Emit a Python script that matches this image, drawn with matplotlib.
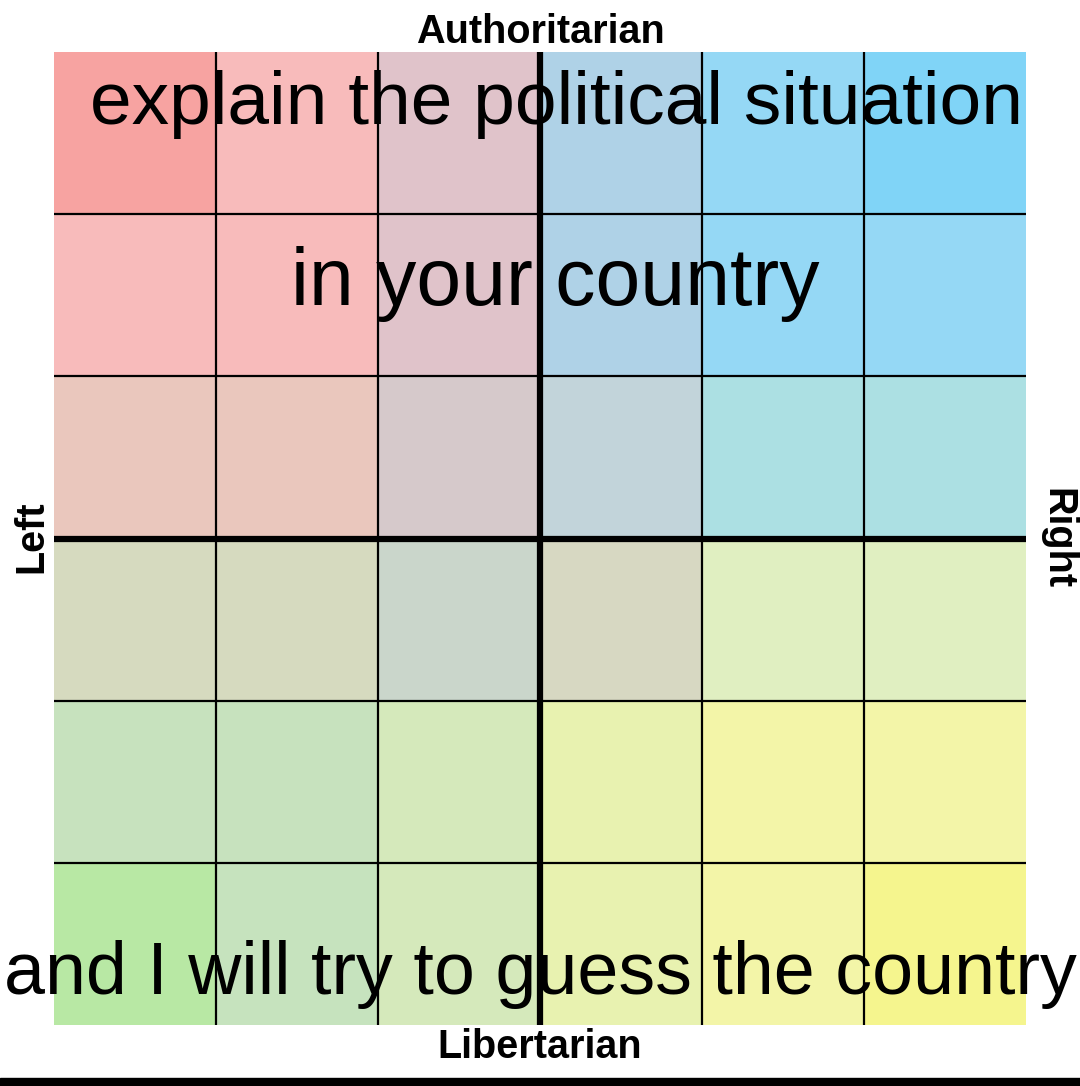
import numpy as np
import matplotlib.pyplot as plt
from matplotlib.colors import to_rgb

# 6x6 compass cells, top row first
cell_colors = [
    ["#F7A3A1", "#F8BBBB", "#E0C3CA", "#AFD2E7", "#95D8F5", "#80D4F7"],
    ["#F8BBBB", "#F8BBBB", "#E0C3CA", "#AFD2E7", "#95D8F5", "#95D8F5"],
    ["#EAC7BD", "#EAC7BD", "#D6C9CB", "#C2D4DA", "#ACE0E3", "#ACE0E3"],
    ["#D6DABF", "#D6DABF", "#CAD6CB", "#D7D8C2", "#E0EFC1", "#E0EFC1"],
    ["#C7E2BE", "#C7E2BE", "#D5E9BB", "#E8F2B0", "#F3F5A8", "#F3F5A8"],
    ["#B8E8A4", "#C6E3BE", "#D5E9BB", "#E8F2B0", "#F3F5A8", "#F5F58E"],
]
axis_labels = {"top": "Authoritarian", "bottom": "Libertarian", "left": "Left", "right": "Right"}
caption_lines = ["explain the political situation", "in your country",
                 "and I will try to guess the country"]

n = len(cell_colors)
rgb = np.array([[to_rgb(c) for c in row] for row in cell_colors])

fig = plt.figure(figsize=(10.8, 10.86), dpi=100)
ax = fig.add_axes([54 / 1080, 1 - 1025 / 1086, 972 / 1080, 973 / 1086])
ax.imshow(rgb, extent=(0, n, 0, n), interpolation="nearest", aspect="auto")
for k in range(1, n):
    lw = 4.5 if k == n // 2 else 1.6
    ax.axvline(k, color="black", lw=lw)
    ax.axhline(k, color="black", lw=lw)
ax.set_xlim(0, n)
ax.set_ylim(0, n)
ax.axis("off")

lab = dict(fontfamily=["Liberation Sans", "DejaVu Sans"], fontweight="bold", fontsize=28.5)
fig.text(540 / 1080, 1 - 32 / 1086, axis_labels["top"], ha="center", va="center", **lab)
fig.text(540 / 1080, 1 - 1047 / 1086, axis_labels["bottom"], ha="center", va="center", **lab)
fig.text(31 / 1080, 1 - 537 / 1086, axis_labels["left"], ha="center", va="center", rotation=90, **lab)
fig.text(1057 / 1080, 1 - 539 / 1086, axis_labels["right"], ha="center", va="center", rotation=270, **lab)

cap = dict(fontfamily=["Liberation Sans", "DejaVu Sans"])
fig.text(556 / 1080, 1 - 124 / 1086, caption_lines[0], ha="center", va="baseline", fontsize=54, **cap)
fig.text(555 / 1080, 1 - 305 / 1086, caption_lines[1], ha="center", va="baseline", fontsize=58, **cap)
fig.text(540 / 1080, 1 - 994 / 1086, caption_lines[2], ha="center", va="baseline", fontsize=53, **cap)

# black strip along the bottom edge
fig.patches.append(plt.Rectangle((0, 0), 1, 8 / 1086, transform=fig.transFigure,
                                 color="black", zorder=5))

fig.savefig("out.png", dpi=100)
